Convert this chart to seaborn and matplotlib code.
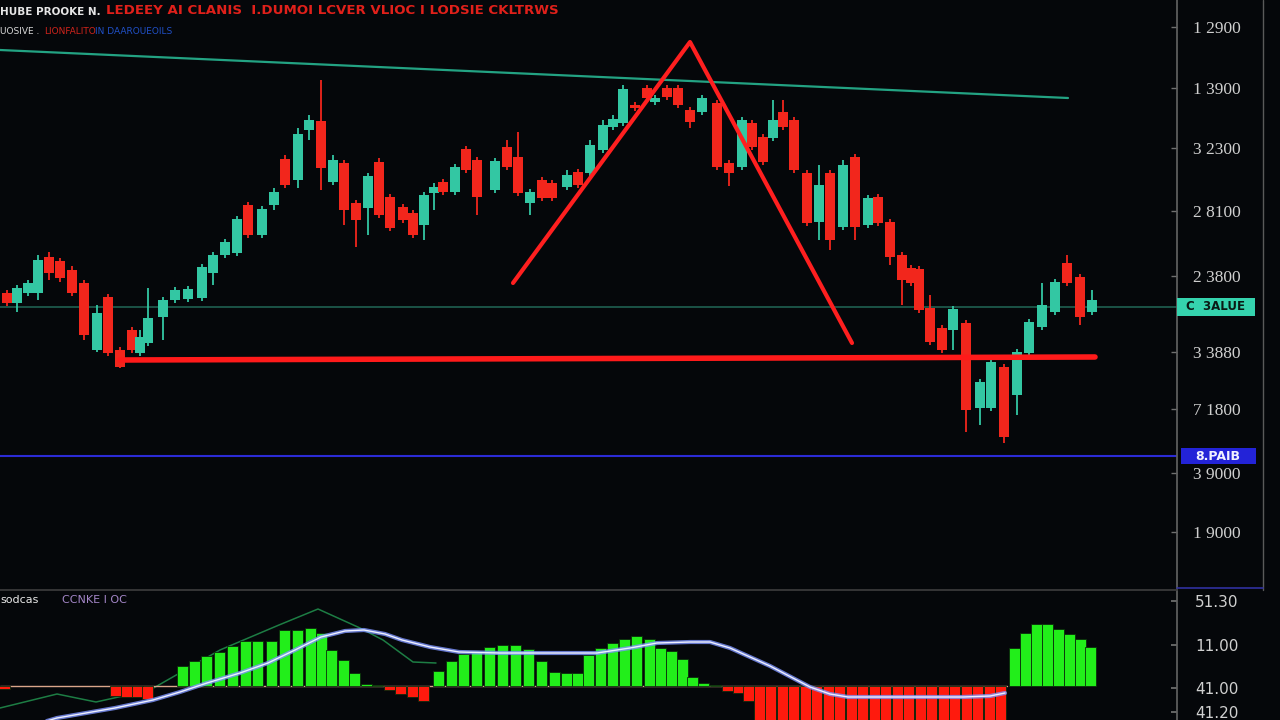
import matplotlib
matplotlib.use("Agg")
import matplotlib.pyplot as plt
import seaborn as sns
import pandas as pd
from matplotlib.patches import Rectangle
from matplotlib.lines import Line2D

# Candles: bar time, open, high, low, close (price in chart units)
bar_t = [7, 17, 28, 38, 49, 60, 72, 84, 97, 108, 120, 132, 140, 148, 163, 175, 188, 202, 213, 225,
         237, 248, 262, 274, 285, 298, 309, 321, 333, 344, 356, 368, 379, 390, 403, 413, 424, 434, 443, 455,
         466, 477, 495, 507, 518, 530, 542, 552, 567, 578, 590, 603, 613, 623, 635, 647, 655, 667, 678, 690,
         702, 717, 729, 742, 752, 763, 773, 783, 794, 807, 819, 830, 843, 855, 868, 878, 890, 902, 911, 919,
         930, 942, 953, 966, 980, 991, 1004, 1017, 1029, 1042, 1055, 1067, 1080, 1092]
bar_open = [307, 297, 307, 307, 343, 339, 330, 317, 250, 303, 250, 270, 247, 257, 283, 300, 301, 302, 327, 345,
            347, 395, 365, 395, 441, 420, 470, 479, 418, 437, 397, 392, 438, 403, 393, 387, 375, 407, 418, 408,
            451, 440, 410, 453, 443, 397, 420, 417, 413, 428, 427, 450, 473, 477, 495, 512, 498, 512, 512, 490,
            488, 497, 437, 433, 477, 463, 462, 488, 480, 427, 378, 427, 373, 443, 375, 403, 378, 345, 332, 331,
            292, 272, 270, 277, 192, 192, 233, 205, 247, 273, 288, 337, 323, 288]
bar_high = [310, 315, 320, 345, 348, 342, 334, 320, 295, 306, 253, 273, 270, 312, 303, 313, 314, 336, 348, 361,
            384, 398, 394, 412, 445, 472, 485, 520, 445, 440, 400, 427, 442, 406, 396, 390, 408, 417, 421, 436,
            454, 443, 442, 460, 468, 411, 423, 420, 430, 431, 460, 480, 485, 515, 498, 515, 505, 515, 515, 493,
            505, 500, 440, 483, 480, 466, 500, 500, 483, 430, 435, 430, 440, 446, 405, 406, 381, 348, 335, 334,
            305, 275, 294, 280, 221, 241, 236, 251, 281, 317, 321, 345, 326, 310]
bar_low = [294, 288, 304, 300, 320, 318, 304, 260, 248, 244, 232, 247, 244, 254, 260, 297, 298, 299, 315, 342,
           344, 362, 362, 390, 412, 412, 460, 410, 415, 375, 353, 365, 382, 369, 377, 362, 360, 390, 405, 405,
           427, 385, 407, 430, 404, 385, 399, 399, 410, 412, 424, 447, 470, 474, 489, 499, 495, 500, 492, 472,
           485, 430, 414, 430, 450, 435, 459, 470, 427, 374, 360, 350, 370, 360, 372, 374, 335, 295, 314, 287,
           255, 247, 250, 168, 175, 189, 157, 185, 244, 270, 285, 314, 275, 285]
bar_close = [297, 312, 317, 340, 327, 322, 307, 265, 287, 247, 233, 250, 263, 282, 300, 310, 311, 333, 345, 358,
             381, 365, 391, 408, 415, 466, 480, 432, 440, 390, 380, 424, 385, 372, 380, 365, 405, 413, 408, 433,
             430, 403, 439, 433, 407, 408, 402, 402, 425, 415, 455, 475, 481, 511, 492, 502, 502, 503, 495, 478,
             502, 433, 427, 480, 453, 438, 480, 473, 430, 377, 415, 360, 435, 373, 402, 377, 343, 320, 317, 290,
             258, 250, 291, 190, 218, 238, 163, 248, 278, 295, 318, 317, 283, 300]

# Drawn overlays
resist_x = [0, 1068]
resist_y = [550, 502]
support_x = [120, 1095]
support_y = [240, 243]
wedge_x = [513, 690, 852]
wedge_y = [317, 558, 257]
last_price = 293
alert_price = 144

price_ticks = [573, 512, 452, 389, 324, 248, 191, 127, 68]
price_labels = ["1 2900", "1 3900", "3 2300", "2 8100", "2 3800", "3 3880", "7 1800", "3 9000", "1 9000"]

# Oscillator panel
hist_x = [4, 115, 126, 137, 147, 182, 194, 206, 219, 232, 245, 257, 271, 284, 297, 310, 321, 331, 343, 354,
          366, 377, 389, 400, 412, 423, 438, 451, 463, 476, 489, 502, 515, 528, 541, 554, 566, 577, 588, 600,
          612, 624, 636, 649, 660, 671, 682, 692, 703, 715, 727, 738, 748, 759, 770, 782, 793, 805, 816, 828,
          839, 851, 862, 874, 885, 897, 908, 920, 931, 943, 954, 966, 977, 989, 1000, 1014, 1025, 1036, 1047,
          1058, 1069, 1080, 1090]
hist_h = [-3, -10, -11, -11, -13, 20, 25, 30, 34, 40, 45, 45, 45, 56, 56, 58, 53, 36, 26, 13,
          2, 1, -4, -8, -11, -15, 15, 25, 32, 35, 39, 41, 41, 37, 25, 14, 13, 13, 31, 38,
          43, 47, 50, 47, 38, 35, 27, 9, 3, 1, -5, -7, -15, -40, -40, -40, -40, -40, -40, -40,
          -40, -40, -40, -40, -40, -40, -40, -40, -40, -40, -40, -40, -40, -40, -40, 38, 53, 62, 62,
          57, 52, 47, 39]
signal_x = [30, 57, 115, 153, 180, 207, 240, 268, 295, 321, 345, 364, 385, 402, 430, 459, 500, 536,
            597, 630, 657, 690, 710, 730, 770, 810, 830, 848, 900, 963, 990, 1005]
signal_y = [-40, -32, -22, -14, -6, 3, 13, 23, 36, 49, 55, 56, 52, 46, 39, 34, 33, 33,
            33, 38, 43, 44, 44, 38, 20, -1, -8, -11, -11, -11, -10, -7]
macd_x = [0, 57, 96, 150, 220, 279, 318, 360, 383, 413, 436]
macd_y = [-22, -8, -16, -4, 36, 61, 77, 58, 46, 24, 23]
osc_ticks = [85, 41, -2, -26]
osc_labels = ["51.30", "11.00", "41.00", "41.20"]

BG = "#05070a"
UP = "#33c7a3"
DOWN = "#f2261c"

sns.set_theme(style="dark", rc={"axes.facecolor": BG, "figure.facecolor": BG})
plt.rcParams["font.family"] = ["DejaVu Sans"]

W, H = 1280, 720
fig = plt.figure(figsize=(12.8, 7.2), dpi=100, facecolor=BG)
ax = fig.add_axes([0, 132 / H, 1177 / W, 588 / H])
ax2 = fig.add_axes([0, 0, 1177 / W, 130 / H])

candles = pd.DataFrame({"t": bar_t, "open": bar_open, "high": bar_high,
                        "low": bar_low, "close": bar_close})
candles["color"] = [UP if c >= o else DOWN for o, c in zip(candles.open, candles.close)]

# horizontal reference lines behind candles
ax.axhline(last_price, color="#1f5f50", lw=1.2, zorder=1)
ax.axhline(alert_price, color="#2b2bd6", lw=1.5, zorder=1)
sns.lineplot(x=resist_x, y=resist_y, ax=ax, color="#23a383", lw=1.6, sort=False, zorder=2)

ax.vlines(candles.t, candles.low, candles.high, colors=candles.color, lw=1.3, zorder=3)
ax.bar(candles.t, candles.close - candles.open, bottom=candles.open, width=9.5,
       color=candles.color, linewidth=0, zorder=4)

sns.lineplot(x=support_x, y=support_y, ax=ax, color="#ff1a1a", lw=4, sort=False, zorder=5)
sns.lineplot(x=wedge_x, y=wedge_y, ax=ax, color="#ff1f1f", lw=3.0, sort=False, zorder=5)

ax.set_xlim(0, 1177)
ax.set_ylim(12, 600)
ax.set_xticks([])
ax.yaxis.tick_right()
ax.set_yticks(price_ticks)
ax.set_yticklabels(price_labels, family=["Liberation Serif", "DejaVu Serif"], fontsize=12.5, color="#cfcfcf")
ax.tick_params(axis="y", direction="in", length=4, width=1, color="#707070", pad=11.5, right=True)
for side in ["top", "left", "bottom"]:
    ax.spines[side].set_visible(False)
ax.spines["right"].set_color("#606060")
ax.grid(False)

# price tags on the axis
ytr = ax.get_yaxis_transform()
ax.add_patch(Rectangle((1.0, last_price - 9), 0.066, 18, transform=ytr, clip_on=False,
                       facecolor="#35d3ae", edgecolor="none", zorder=6))
ax.text(1.033, last_price, "C  3ALUE", transform=ytr, ha="center", va="center",
        fontsize=8.5, fontweight="bold", color="#0a1a15", zorder=7)
ax.add_patch(Rectangle((1.003, alert_price - 8), 0.064, 16, transform=ytr, clip_on=False,
                       facecolor="#2323d8", edgecolor="none", zorder=6))
ax.text(1.035, alert_price, "8.PAIB", transform=ytr, ha="center", va="center",
        fontsize=9, fontweight="bold", color="#f0f0ff", zorder=7)

# oscillator panel
hist_colors = ["#22ee1a" if h >= 0 else "#ff1a0d" for h in hist_h]
sns.lineplot(x=macd_x, y=macd_y, ax=ax2, color="#1d7d44", lw=1.1, sort=False, zorder=1)
ax2.plot([0, 1007], [0, 0], color="#d9a58a", lw=1, zorder=2)
ax2.bar(hist_x, hist_h, width=11, color=hist_colors, edgecolor="#0b2a0b", linewidth=0.6, zorder=3)
sns.lineplot(x=signal_x, y=signal_y, ax=ax2, color="#7f95ff", lw=3, alpha=0.8, sort=False, zorder=4)
sns.lineplot(x=signal_x, y=signal_y, ax=ax2, color="#eef0ff", lw=1, sort=False, zorder=5)

ax2.set_xlim(0, 1177)
ax2.set_ylim(-34, 96)
ax2.set_xticks([])
ax2.yaxis.tick_right()
ax2.set_yticks(osc_ticks)
ax2.set_yticklabels(osc_labels, fontsize=11, color="#d0d0d0")
ax2.tick_params(axis="y", direction="in", length=4, color="#707070", pad=13, right=True)
for side in ["left", "bottom"]:
    ax2.spines[side].set_visible(False)
ax2.spines["top"].set_color("#3c3c3c")
ax2.spines["right"].set_color("#606060")
ax2.grid(False)

# frame lines of the price scale column
fig.add_artist(Line2D([1263 / W, 1263 / W], [130 / H, 1], color="#5a5a5a", lw=1))
fig.add_artist(Line2D([1177 / W, 1263 / W], [132 / H, 132 / H], color="#3030a0", lw=1.2))

# header texts
fig.text(0 / W, 1 - 12 / H, "HUBE PROOKE N.", fontsize=7.5, fontweight="bold", color="#e6e6e6", va="center")
fig.text(106 / W, 1 - 10 / H, "LEDEEY AI CLANIS  I.DUMOI LCVER VLIOC I LODSIE CKLTRWS",
         fontsize=9.6, fontweight="bold", color="#e0201a", va="center")
fig.text(0 / W, 1 - 31 / H, "UOSIVE .", fontsize=6.5, color="#d8d8d8", va="center")
fig.text(44 / W, 1 - 31 / H, "LIONFALITO", fontsize=6.5, color="#d2241c", va="center")
fig.text(95 / W, 1 - 31 / H, "IN DAAROUEOILS", fontsize=6.5, color="#2050c8", va="center")
fig.text(0 / W, 1 - 600 / H, "sodcas", fontsize=8, color="#e8e8e8", va="center")
fig.text(62 / W, 1 - 600 / H, "CCNKE I OC", fontsize=8, color="#a486c8", va="center")

fig.savefig("out.png", dpi=100, facecolor=BG)
